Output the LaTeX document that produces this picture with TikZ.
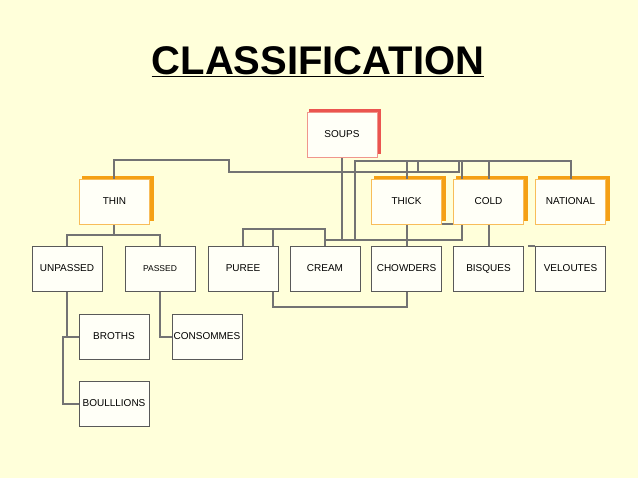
\documentclass[tikz,border=0pt]{standalone}
\usepackage{fontspec}
\setmainfont{Liberation Sans}
\definecolor{bg}{RGB}{255,255,218}
\definecolor{shred}{RGB}{235,85,80}
\definecolor{shor}{RGB}{245,160,20}
\definecolor{pinkline}{RGB}{240,150,140}
\begin{document}
\begin{tikzpicture}[x=1pt,y=-1pt,
  box/.style={draw=black!65,line width=0.9pt,fill=white!60!yellow!8,minimum width=70pt,minimum height=45pt,inner sep=0pt,font=\fontsize{10}{12}\selectfont},
  obox/.style={box,draw=shor!70,line width=0.8pt},
  conn/.style={draw=black!55,line width=2pt}]
\fill[bg] (0,0) rectangle (638,478);
\useasboundingbox (0,0) rectangle (638,478);
\node[font=\fontsize{40}{44}\selectfont\bfseries] (title) at (318,62) {\underline{CLASSIFICATION}};
% shadows
\fill[shred] (342-33,134.5-25.5) rectangle (342+39,134.5+19.5);
\foreach \x in {114.5,406.5,488.5,570.5}
  \fill[shor] (\x-33,201.5-25.5) rectangle (\x+39,201.5+19.5);
% connectors
\draw[conn] (114,179) -- (114,160) -- (229,160) -- (229,172) -- (459,172) -- (459,161);
\draw[conn] (355,240) -- (355,161) -- (571,161) -- (571,179);
\draw[conn] (407,161) -- (407,179);
\draw[conn] (418,161) -- (418,172);
\draw[conn] (489,161) -- (489,179);
\draw[conn] (462,161) -- (462,240) -- (325,240);
\draw[conn] (342,157) -- (342,240);
\draw[conn] (243,246) -- (243,229) -- (325,229) -- (325,246);
\draw[conn] (273,229) -- (273,246);
\draw[conn] (407,224) -- (407,246);
\draw[conn] (442,224) -- (453,224);
\draw[conn] (489,224) -- (489,246);
\draw[conn] (528,246) -- (535,246);
\draw[conn] (273,291) -- (273,307) -- (407,307) -- (407,291);
\draw[conn] (114,224) -- (114,235);
\draw[conn] (67,246) -- (67,235) -- (160,235) -- (160,246);
\draw[conn] (67,291) -- (67,337) -- (79,337);
\draw[conn] (67,337) -- (63,337) -- (63,404) -- (79,404);
\draw[conn] (160,291) -- (160,337) -- (172,337);
% nodes
\node[box,draw=pinkline] (soups) at (342,134.5) {SOUPS};
\node[obox] (thin) at (114.5,201.5) {THIN};
\node[obox] (thick) at (406.5,201.5) {THICK};
\node[obox] (cold) at (488.5,201.5) {COLD};
\node[obox] (national) at (570.5,201.5) {NATIONAL};
\node[box] (unpassed) at (67,268.5) {UNPASSED};
\node[box,font=\fontsize{8.5}{10}\selectfont] (passed) at (160,268.5) {PASSED};
\node[box] (puree) at (243,268.5) {PUREE};
\node[box] (cream) at (325,268.5) {CREAM};
\node[box] (chowders) at (406.5,268.5) {CHOWDERS};
\node[box] (bisques) at (488.5,268.5) {BISQUES};
\node[box] (veloutes) at (570.5,268.5) {VELOUTES};
\node[box] (broths) at (114,336.5) {BROTHS};
\node[box] (consommes) at (207,336.5) {CONSOMMES};
\node[box] (boullions) at (114,403.5) {BOULLLIONS};
\end{tikzpicture}
\end{document}
